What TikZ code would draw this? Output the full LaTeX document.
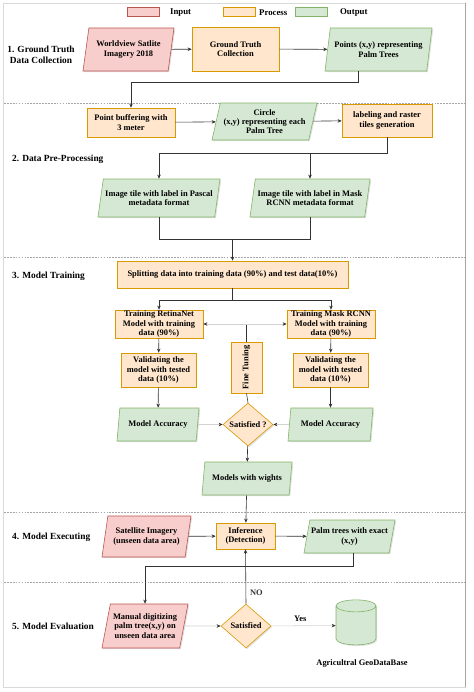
\documentclass[tikz,border=0pt]{standalone}
\usepackage{fontspec}
\setmainfont{Liberation Serif}
\usetikzlibrary{shapes.geometric, arrows.meta, shadows}
\usepackage{xcolor}
\definecolor{inFill}{RGB}{248,206,204}
\definecolor{inDraw}{RGB}{184,84,80}
\definecolor{prFill}{RGB}{255,230,204}
\definecolor{prDraw}{RGB}{215,155,0}
\definecolor{ouFill}{RGB}{213,232,212}
\definecolor{ouDraw}{RGB}{130,179,102}

\begin{document}
\begin{tikzpicture}[
    x=0.03cm, y=-0.03cm,
    font=\fontsize{7.2}{7.9}\selectfont\bfseries,
    base/.style={line width=0.5pt, align=center, inner xsep=1pt, inner ysep=0.5pt,
                 drop shadow={shadow xshift=1pt, shadow yshift=-1pt, opacity=0.25}},
    input/.style={base, trapezium, trapezium left angle=72, trapezium right angle=108,
                  trapezium stretches body, draw=inDraw, fill=inFill},
    proc/.style={base, rectangle, draw=prDraw, fill=prFill},
    outbox/.style={base, trapezium, trapezium left angle=72, trapezium right angle=108,
                   trapezium stretches body, draw=ouDraw, fill=ouFill},
    decision/.style={base, diamond, aspect=1.15, inner sep=0pt, draw=prDraw, fill=prFill},
    db/.style={base, cylinder, shape border rotate=90, aspect=0.3, inner sep=0pt,
               draw=ouDraw, fill=ouFill},
    legbox/.style={rectangle, line width=0.5pt, minimum width=0.95cm, minimum height=0.27cm},
    legtext/.style={font=\fontsize{7.5}{9}\selectfont\bfseries, anchor=west},
    stage/.style={font=\fontsize{8}{9.5}\selectfont\bfseries, align=center},
    sep/.style={gray!70, line width=0.5pt, dash pattern=on 1.5pt off 1pt},
    arr/.style={-{Stealth[length=3.5pt, width=3pt]}, line width=0.5pt, color=black!80},
    farr/.style={-{Stealth[length=3.5pt, width=3pt, color=black!80]}, line width=0.5pt, draw=gray!35},
    line/.style={line width=0.5pt, color=black!80}
]
\useasboundingbox (0,0) rectangle (474,692);

%% ── Frame and stage separators ──
\draw[gray!30] (3,3) rectangle (465,687);
\draw[gray!70, line width=0.8pt] (465,3) -- (465,687);
\foreach \yy in {103,257,512,582}
  \draw[sep] (4,\yy) -- (464,\yy);

%% ── Legend ──
\node[legbox, draw=inDraw, fill=inFill] (LI) at (143.5,11.5) {};
\node[legtext] (LIt) at (166,12.5) {Input};
\node[legbox, draw=prDraw, fill=prFill] (LP) at (239,11.5) {};
\node[legtext] (LPt) at (255,12.5) {Process};
\node[legbox, draw=ouDraw, fill=ouFill] (LO) at (311,11.5) {};
\node[legtext] (LOt) at (336,12.5) {Output};

%% ── 1. Ground Truth Data Collection ──
\node[stage] (S1) at (41,55) {1. Ground Truth\\Data Collection};
\node[input, minimum width=2.73cm, minimum height=1.29cm] (WV) at (128.5,49.5) {Worldview Satlite\\Imagery 2018};
\node[proc, minimum width=2.61cm, minimum height=1.32cm] (GT) at (235.5,49) {Ground Truth\\Collection};
\node[outbox, minimum width=3.21cm, minimum height=1.29cm] (PT) at (378.5,49.5) {Points (x,y) representing\\Palm Trees};

%% ── 2. Data Pre-Processing ──
\node[stage, anchor=west] (S2) at (8,159) {2. Data Pre-Processing};
\node[proc, minimum width=2.64cm, minimum height=0.87cm] (BUF) at (131,122.5) {Point buffering with\\3 meter};
\node[outbox, minimum width=3.15cm, minimum height=1.11cm] (CIR) at (264.5,121.5) {Circle\\(x,y) representing each\\Palm Tree};
\node[proc, minimum width=2.7cm, minimum height=0.99cm] (LBL) at (387,120.5) {labeling and raster\\tiles generation};
\node[outbox, minimum width=3.66cm, minimum height=1.14cm] (PAS) at (159,198) {Image tile with label in Pascal\\metadata format};
\node[outbox, minimum width=3.6cm, minimum height=1.14cm] (MSK) at (310,198) {Image tile with label in Mask\\RCNN metadata format};

%% ── 3. Model Training ──
\node[stage, anchor=west] (S3) at (8,276) {3. Model Training};
\node[proc, minimum width=6.93cm, minimum height=0.81cm] (SPL) at (232.5,274.5) {Splitting data into training data (90\%) and test data(10\%)};
\node[proc, minimum width=2.64cm, minimum height=0.84cm] (TRR) at (159,324) {Training RetinaNet\\Model with training\\data (90\%)};
\node[proc, minimum width=2.64cm, minimum height=0.84cm] (TRM) at (331,324) {Training Mask RCNN\\Model with training\\data (90\%)};
\node[proc, minimum width=0.93cm, minimum height=1.53cm] (FT) at (246.5,367.5) {\rotatebox{90}{Fine Tuning}};
\node[proc, minimum width=2.25cm, minimum height=1.02cm] (VL) at (158.5,370) {Validating the\\model with tested\\data (10\%)};
\node[proc, minimum width=2.25cm, minimum height=1.02cm] (VR) at (330.5,370) {Validating the\\model with tested\\data (10\%)};
\node[outbox, minimum width=2.46cm, minimum height=0.99cm] (MAL) at (158,424.5) {Model Accuracy};
\node[outbox, minimum width=2.55cm, minimum height=0.99cm] (MAR) at (330.5,424.5) {Model Accuracy};
\node[decision, minimum width=1.5cm, minimum height=1.29cm] (SAT1) at (248,424.5) {Satisfied ?};
\node[outbox, minimum width=2.7cm, minimum height=0.99cm] (MW) at (247,478.5) {Models with wights};

%% ── 4. Model Executing ──
\node[stage, anchor=west] (S4) at (8,537) {4. Model Executing};
\node[input, minimum width=2.67cm, minimum height=1.23cm] (SI) at (146.5,536.5) {Satellite Imagery\\(unseen data area)};
\node[proc, minimum width=1.77cm, minimum height=0.78cm] (INF) at (245.5,536) {Inference\\(Detection)};
\node[outbox, minimum width=2.61cm, minimum height=0.99cm] (PALM) at (349.5,536.5) {Palm trees with exact\\(x,y)};

%% ── 5. Model Evaluation ──
\node[stage, anchor=west] (S5) at (8,626) {5. Model Evaluation};
\node[input, minimum width=2.58cm, minimum height=1.32cm] (MAN) at (145,626) {Manual digitizing\\palm tree(x,y) on\\unseen data area};
\node[decision, minimum width=1.5cm, minimum height=1.32cm] (SAT2) at (246,626) {Satisfied};
\node[db, minimum width=1.2cm, minimum height=1.35cm] (GDB) at (356,625.5) {\rule{0pt}{0.8cm}\rule{1.2cm}{0pt}};
\node (GDBt) at (362,663) {Agricultral GeoDataBase};

%% ── Stage 1 arrows ──
\draw[arr] (WV) -- (GT);
\draw[arr] (GT) -- (PT);
\draw[arr] ([xshift=-0.6cm]PT.south) -- ++(0,11) -| (BUF.north);

%% ── Stage 2 arrows ──
\draw[arr] (BUF) -- (CIR);
\draw[arr] (CIR) -- (LBL);
\draw[arr] (LBL.south) -- ++(0,16) -| (PAS.north);
\draw[arr] (LBL.south) -- ++(0,16) -| (MSK.north);
\coordinate (J1) at (232.5,239);
\draw[line] (PAS.south) |- (J1);
\draw[line] (MSK.south) |- (J1);
\draw[arr]  (J1) -- (SPL.north);

%% ── Stage 3 arrows ──
\draw[arr] (SPL.south) -- ++(0,12) -| (TRR.north);
\draw[arr] (SPL.south) -- ++(0,12) -| (TRM.north);
\draw[arr] (TRR) -- (VL);
\draw[arr] (TRM) -- (VR);
\draw[arr] (VL) -- (MAL);
\draw[arr] (VR) -- (MAR);
\draw[farr] (MAL) -- (SAT1);
\draw[farr] (MAR) -- (SAT1);
\draw[line] (SAT1.north) -- (FT.south);
\coordinate (J2) at (FT.north |- TRR.east);
\draw[line] (FT.north) -- (J2);
\draw[farr] (J2) -- (TRR.east);
\draw[farr] (J2) -- (TRM.west);
\draw[arr] (SAT1) -- (MW);

%% ── Stage 4 arrows ──
\draw[arr] (MW) -- (INF);
\draw[arr] (SI) -- (INF);
\draw[arr] (INF) -- (PALM);
\draw[arr] ([xshift=0.12cm]PALM.south) -- ++(0,13) -| (MAN.north);

%% ── Stage 5 arrows ──
\draw[farr] (MAN) -- (SAT2);
\draw[arr]  (SAT2.north) -- node[pos=0.2, right] {NO} (INF.south);
\draw[farr] (SAT2) -- node[pos=0.45, above] {Yes} (GDB);

\end{tikzpicture}
\end{document}
